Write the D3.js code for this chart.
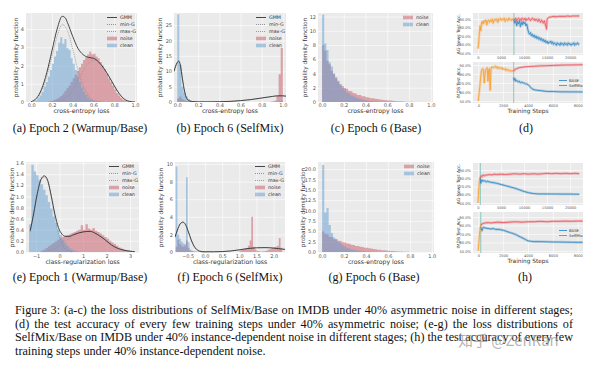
<!DOCTYPE html>
<html>
<head>
<meta charset="utf-8">
<script src="https://cdn.jsdelivr.net/npm/d3@7"></script>
<style>
  body { margin: 0; background: #fff; }
  svg { display: block; }
</style>
</head>
<body>
<div id="figure"></div>
<script>
// ---------------- Data ----------------

// Histogram bins (start of first bin, bin width)
const binsA = {start: 0, width: 0.02};
const binsB = {start: 0, width: 0.02};
const binsC = {start: 0, width: 0.02};
const binsE = {start: -1.3, width: 0.1};
const binsF = {start: -0.85, width: 0.05};
const binsG = {start: 0, width: 0.02};

// (a) Epoch 2 (Warmup/Base)
const aClean = [0, 0.03, 0.1, 0.2, 0.35, 0.55, 0.85, 1.1, 1.4, 1.75, 2.1, 2.5, 2.8, 3.25, 3.55, 3.2, 3.45, 2.95, 2.85, 2.4,
  2.1, 1.75, 1.4, 1.1, 0.8, 0.55, 0.38, 0.25, 0.15, 0.09, 0.05, 0.03, 0.01];
const aNoise = [0, 0, 0, 0, 0, 0, 0, 0, 0.02, 0.05, 0.08, 0.12, 0.18, 0.25, 0.33, 0.45, 0.6, 0.75, 0.9, 1.1,
  1.3, 1.5, 1.7, 1.9, 2.1, 2.3, 2.45, 2.6, 2.75, 2.6, 2.65, 2.5, 2.4, 2.2, 2.0, 1.8, 1.55, 1.3, 1.1, 0.9,
  0.7, 0.5, 0.35, 0.22, 0.13, 0.07, 0.03, 0.01];
const aGmm = [[0, 0.02], [0.05, 0.2], [0.1, 0.7], [0.15, 1.6], [0.2, 2.8], [0.25, 4.0], [0.3, 4.7], [0.33, 4.6], [0.35, 4.35],
  [0.4, 3.6], [0.45, 2.95], [0.5, 2.6], [0.55, 2.45], [0.6, 2.4], [0.65, 2.2], [0.7, 1.85], [0.75, 1.4], [0.8, 0.9],
  [0.85, 0.45], [0.9, 0.15], [0.95, 0.03], [1.0, 0]];
const aMinG = [[0, 0.02], [0.05, 0.15], [0.1, 0.6], [0.15, 1.4], [0.2, 2.5], [0.25, 3.6], [0.3, 4.25], [0.35, 3.9], [0.4, 2.9],
  [0.45, 1.8], [0.5, 0.9], [0.55, 0.35], [0.6, 0.1], [0.65, 0.02], [0.7, 0]];
const aMaxG = [[0.25, 0.05], [0.3, 0.12], [0.35, 0.3], [0.4, 0.7], [0.45, 1.2], [0.5, 1.7], [0.55, 2.1], [0.6, 2.3], [0.65, 2.2],
  [0.7, 1.85], [0.75, 1.4], [0.8, 0.9], [0.85, 0.45], [0.9, 0.15], [0.95, 0.03], [1.0, 0]];

// (b) Epoch 6 (SelfMix)
const bClean = [28.5, 12, 5, 3, 1.8, 1.0, 0.6, 0.35, 0.2, 0.12,
  0.08, 0.05, 0.04, 0.03, 0.02, 0.02, 0.01, 0.01, 0, 0,
  0, 0, 0, 0, 0, 0, 0, 0, 0, 0,
  0, 0, 0, 0, 0, 0, 0, 0, 0, 0,
  0, 0, 0, 0, 0.05, 0.05, 0.1, 0.2, 0.4, 0.5];
const bNoise = [1.2, 1.8, 1.0, 0.6, 0.35, 0.2, 0.12, 0.08, 0.05, 0.04,
  0.03, 0.03, 0.02, 0.02, 0.02, 0.02, 0, 0, 0, 0,
  0, 0, 0, 0, 0, 0, 0, 0, 0, 0,
  0, 0, 0, 0, 0, 0, 0, 0, 0, 0,
  0, 0, 0, 0, 0.1, 0.2, 0.5, 2.0, 9.0, 17.5];
const bGmm = [[-0.03, 10], [0, 12.8], [0.015, 13.3], [0.03, 12], [0.05, 7.5], [0.07, 3.5], [0.09, 1.2], [0.12, 0.3],
  [0.15, 0.1], [0.2, 0.05], [0.3, 0.05], [0.4, 0.1], [0.5, 0.2], [0.6, 0.45], [0.7, 0.8], [0.8, 1.3], [0.9, 1.8],
  [0.95, 2.0], [1.0, 2.0], [1.03, 1.9]];
const bMinG = [[-0.03, 9.8], [0, 12.6], [0.015, 13.1], [0.03, 11.8], [0.05, 7.4], [0.07, 3.4], [0.09, 1.1], [0.12, 0.25],
  [0.15, 0.03], [0.2, 0]];
const bMaxG = [[0.1, 0], [0.2, 0.02], [0.3, 0.05], [0.4, 0.1], [0.5, 0.2], [0.6, 0.45], [0.7, 0.8], [0.8, 1.3], [0.9, 1.8],
  [0.95, 2.0], [1.0, 2.0], [1.03, 1.9]];

// (c) Epoch 6 (Base)
const cClean = [12.3, 8.2, 7.3, 5.6, 5.0, 3.9, 3.5, 2.8, 2.5, 1.95, 1.75, 1.35, 1.2, 0.92, 0.82, 0.63, 0.54, 0.41, 0.35, 0.26,
  0.22, 0.15, 0.13, 0.09, 0.07, 0.05, 0.035, 0.025, 0.015, 0.01];
const cNoise = [8.0, 7.2, 5.8, 5.3, 4.4, 4.0, 3.3, 3.0, 2.45, 2.25, 1.95, 1.85, 1.55, 1.5, 1.25, 1.2, 1.0, 0.98, 0.82, 0.8,
  0.68, 0.64, 0.53, 0.52, 0.44, 0.41, 0.35, 0.33, 0.27, 0.26, 0.21, 0.2, 0.16, 0.15, 0.12, 0.11, 0.09, 0.07, 0.05, 0.04,
  0.03, 0.02, 0.01];

// (e) Epoch 1 (Warmup/Base)
const eClean = [0.5, 1.57, 1.45, 1.38, 1.3, 1.22, 1.12, 1.02, 0.9, 0.78, 0.64, 0.52, 0.4, 0.3, 0.22, 0.15, 0.1, 0.06, 0.04, 0.02, 0.01];
const eNoise = [0, 0, 0, 0, 0, 0.02, 0.04, 0.07, 0.1, 0.13, 0.16, 0.19, 0.22, 0.25, 0.27, 0.29, 0.3, 0.32, 0.34, 0.36,
  0.38, 0.4, 0.48, 0.4, 0.5, 0.42, 0.4, 0.43, 0.38, 0.36, 0.33, 0.3, 0.27, 0.24, 0.2, 0.17, 0.14, 0.11, 0.08, 0.06,
  0.04, 0.03, 0.02, 0.01];
const eGmm = [[-1.25, 0.38], [-1.1, 0.7], [-0.95, 1.05], [-0.8, 1.3], [-0.65, 1.37], [-0.5, 1.28], [-0.35, 1.0], [-0.2, 0.68],
  [-0.05, 0.44], [0.1, 0.32], [0.25, 0.28], [0.4, 0.28], [0.6, 0.31], [0.8, 0.34], [1.0, 0.36], [1.3, 0.37], [1.5, 0.34],
  [1.7, 0.29], [1.9, 0.23], [2.1, 0.16], [2.3, 0.1], [2.5, 0.06], [2.7, 0.035], [2.9, 0.018], [3.1, 0.008], [3.2, 0.005]];
const eMinG = [[-1.25, 0.36], [-1.1, 0.68], [-0.95, 1.03], [-0.8, 1.28], [-0.65, 1.35], [-0.5, 1.26], [-0.35, 0.97],
  [-0.2, 0.62], [-0.05, 0.33], [0.1, 0.15], [0.25, 0.05], [0.4, 0.015], [0.55, 0]];
const eMaxG = [[-0.5, 0.02], [-0.2, 0.06], [0, 0.11], [0.2, 0.17], [0.4, 0.24], [0.6, 0.3], [0.8, 0.34], [1.0, 0.36],
  [1.3, 0.37], [1.5, 0.34], [1.7, 0.29], [1.9, 0.23], [2.1, 0.16], [2.3, 0.1], [2.5, 0.06], [2.7, 0.035], [2.9, 0.018],
  [3.1, 0.008], [3.2, 0.005]];

// (f) Epoch 6 (SelfMix)
const fClean = [9.7, 2.0, 1.5, 1.2, 1.0, 0.9, 8.5, 1.1, 0.3, 0.15, 0.08, 0.05, 0.03, 0.02];
const fNoise = [0.6, 1.4, 0.9, 0.7, 0.6, 0.7, 1.3, 0.5, 0.15, 0.08,
  0.05, 0.03, 0.02, 0.01, 0, 0, 0, 0, 0, 0,
  0, 0, 0, 0, 0, 0, 0, 0, 0, 0,
  0, 0, 0, 0, 0, 0, 0, 0.15, 0.25, 0.3,
  0.35, 0.45, 0.7, 1.3, 4.0, 0.6, 0.3, 0.15, 0.08, 0.05,
  0.05, 0.08, 0.12, 0.2, 0.3, 0.35, 0.45, 0.55, 0.6, 0.7,
  1.6, 0.5];
const fGmm = [[-0.87, 1.7], [-0.8, 2.5], [-0.72, 3.2], [-0.64, 3.4], [-0.56, 3.1], [-0.48, 2.3], [-0.4, 1.4], [-0.32, 0.7],
  [-0.24, 0.3], [-0.15, 0.1], [0, 0.03], [0.25, 0.03], [0.5, 0.05], [0.75, 0.12], [1.0, 0.25], [1.25, 0.4], [1.5, 0.48],
  [1.75, 0.5], [2.0, 0.45], [2.15, 0.38], [2.33, 0.3]];
const fMinG = [[-0.87, 1.65], [-0.8, 2.45], [-0.72, 3.15], [-0.64, 3.35], [-0.56, 3.05], [-0.48, 2.25], [-0.4, 1.35],
  [-0.32, 0.65], [-0.24, 0.25], [-0.15, 0.06], [0, 0]];
const fMaxG = [[-0.1, 0], [0.25, 0.02], [0.5, 0.05], [0.75, 0.12], [1.0, 0.25], [1.25, 0.4], [1.5, 0.48], [1.75, 0.5],
  [2.0, 0.45], [2.15, 0.38], [2.33, 0.3]];

// (g) Epoch 6 (Base)
const gClean = [21, 9.5, 10.6, 6.5, 4.6, 3.5, 3.1, 2.4, 2.1, 1.55, 1.35, 0.95, 0.85, 0.62, 0.52, 0.38, 0.31, 0.21, 0.17, 0.11,
  0.09, 0.06, 0.04, 0.03, 0.02, 0.01];
const gNoise = [5.0, 4.4, 4.3, 3.7, 3.6, 3.1, 3.05, 2.7, 2.65, 2.35, 2.3, 2.05, 2.0, 1.75, 1.7, 1.45, 1.42, 1.25, 1.22, 1.05,
  1.02, 0.88, 0.82, 0.7, 0.66, 0.56, 0.53, 0.45, 0.41, 0.34, 0.31, 0.25, 0.23, 0.17, 0.15, 0.11, 0.1, 0.07, 0.06, 0.04,
  0.03, 0.02, 0.01];

// (d) test accuracy, 40% asymmetric noise  [step, accuracy %]
const dAgSwitch = 7800;
const dAgWarm = [[0, 55], [150, 62], [300, 75], [450, 82], [600, 76], [750, 84], [900, 87], [1100, 84], [1300, 88], [1500, 86],
  [1700, 89], [1900, 83], [2100, 88], [2300, 89], [2500, 86], [2700, 89], [2900, 87], [3100, 90], [3300, 85], [3500, 89],
  [3700, 90], [3900, 88], [4100, 90], [4300, 86], [4500, 90], [4700, 89], [4900, 91], [5100, 88], [5300, 90], [5500, 89],
  [5700, 91], [5900, 87], [6100, 90], [6300, 90], [6500, 88], [6700, 91], [6900, 89], [7100, 90], [7300, 88], [7500, 90], [7800, 90]];
const dAgBase = [[7800, 90], [8000, 85], [8200, 88], [8400, 82], [8600, 87], [8800, 84], [9000, 88], [9200, 81], [9400, 86],
  [9600, 83], [9800, 87], [10000, 84], [10200, 86], [10400, 82], [10600, 84], [10800, 78], [11000, 74], [11200, 72], [11400, 74],
  [11600, 70], [11800, 72], [12000, 69], [12200, 71], [12400, 68], [12600, 70], [12800, 67], [13000, 69], [13200, 66],
  [13400, 68], [13600, 65], [13800, 67], [14000, 64], [14200, 66], [14400, 63], [14600, 65], [14800, 62], [15000, 64],
  [15200, 61], [15400, 63], [15600, 62], [15800, 64], [16000, 61], [16200, 63], [16400, 60], [16600, 62], [16800, 61],
  [17000, 59], [17200, 62], [17400, 60], [17600, 61], [17800, 59], [18000, 62], [18200, 60], [18400, 61], [18600, 59],
  [18800, 62], [19000, 60], [19200, 61], [19400, 59], [19600, 62], [19800, 60], [20000, 61], [20200, 59], [20400, 61],
  [20600, 60], [20800, 62], [21000, 59], [21200, 61], [21400, 60], [21600, 62], [21800, 60], [22000, 61]];
const dAgSelf = [[7800, 90], [8000, 89], [8200, 91], [8400, 88], [8600, 90], [8800, 91], [9000, 89], [9200, 90], [9400, 88],
  [9600, 91], [9800, 90], [10000, 89], [10200, 91], [10400, 88], [10600, 90], [10800, 89], [11000, 91], [11200, 90],
  [11400, 88], [11600, 90], [11800, 91], [12000, 89], [12200, 90], [12400, 88], [12600, 90], [12800, 89], [13000, 87],
  [13200, 90], [13400, 88], [13600, 86], [13800, 89], [14000, 87], [14200, 85], [14400, 88], [14600, 84], [14800, 80],
  [14900, 78], [15000, 90], [15200, 91], [15400, 92], [15600, 92], [16000, 92.5], [16500, 93], [17000, 92.5], [17500, 93],
  [18000, 93], [18500, 93], [19000, 93], [19500, 93.5], [20000, 93], [20500, 93.5], [21000, 93.5], [21500, 93.5], [22000, 93.5]];

const dImdbSwitch = 2850;
const dImdbWarm = [[0, 50], [60, 58], [120, 66], [180, 75], [240, 82], [300, 85], [360, 86], [420, 84], [480, 70], [540, 80],
  [600, 85], [660, 86], [720, 87], [780, 72], [840, 85], [900, 86], [960, 62], [1020, 85], [1080, 88], [1140, 87], [1200, 88],
  [1260, 87], [1320, 88], [1380, 89], [1440, 87], [1500, 88], [1560, 86], [1620, 88], [1680, 87], [1740, 86], [1800, 87],
  [1860, 86], [1920, 87], [1980, 85], [2040, 86], [2100, 85], [2160, 86], [2220, 84], [2280, 85], [2340, 84], [2400, 85],
  [2460, 84], [2520, 83], [2580, 84], [2640, 83], [2700, 84], [2760, 83], [2850, 83]];
const dImdbBase = [[2850, 76], [2900, 73], [2950, 75], [3000, 72], [3100, 73], [3200, 71], [3300, 72], [3400, 70], [3500, 71],
  [3600, 70], [3700, 70], [3800, 69], [3900, 69], [4000, 68], [4100, 67], [4200, 65], [4300, 64], [4400, 63], [4500, 62.5],
  [4700, 62], [5000, 61.5], [5300, 61], [5600, 60.5], [6000, 60.5], [6500, 60.2], [7000, 60.2], [7500, 60.1], [8000, 60.1], [8400, 60]];
const dImdbSelf = [[2850, 83], [2950, 85], [3100, 86], [3300, 87], [3500, 87.5], [3800, 88], [4100, 88.3], [4500, 88.6],
  [5000, 89], [5500, 89.2], [6000, 89.5], [6500, 89.7], [7000, 89.9], [7500, 90], [8000, 90.1], [8400, 90.2]];

// (h) test accuracy, 40% instance-dependent noise
const hAgSwitch = 500;
const hAgWarm = [[0, 50], [100, 60], [200, 70], [300, 77], [400, 80], [500, 80]];
const hAgBase = [[500, 80], [600, 74], [700, 78], [800, 76], [1000, 78], [1200, 76.5], [1500, 77], [1800, 75.5], [2000, 76.5],
  [2500, 75.5], [3000, 75], [4000, 74], [5000, 72.5], [6000, 71], [7000, 69.5], [8000, 68], [9000, 66], [10000, 64],
  [11000, 62.5], [12000, 61.5], [13000, 61], [14000, 61], [15000, 61], [16000, 60.9], [17000, 60.9], [18000, 60.8],
  [19000, 60.8], [20000, 60.8], [21000, 60.7], [22000, 60.7]];
const hAgSelf = [[500, 80], [700, 83], [900, 82], [1100, 84], [1400, 83], [1700, 84], [2000, 84], [2500, 84.5], [3000, 84],
  [3500, 85], [4000, 84.5], [5000, 85], [6000, 84.5], [7000, 85], [8000, 85.5], [9000, 85], [10000, 85.5], [11000, 85],
  [12000, 85.5], [13000, 85], [14000, 85.5], [15000, 86], [16000, 85.5], [17000, 86], [18000, 85.5], [19000, 86],
  [20000, 85.5], [21000, 86], [22000, 85.5]];

const hImdbSwitch = 200;
const hImdbWarm = [[0, 50], [50, 60], [100, 70], [150, 77], [200, 80]];
const hImdbBase = [[200, 78], [300, 74], [400, 78], [600, 77], [800, 76.5], [1000, 76], [1200, 76.5], [1400, 75.5], [1600, 75.5],
  [1800, 75], [2000, 74.5], [2200, 73.5], [2400, 72.5], [2600, 71.5], [2800, 70.5], [3000, 69.5], [3200, 68], [3400, 66.5],
  [3600, 65], [3800, 63.5], [4000, 62], [4200, 61.5], [4500, 61], [5000, 61], [5500, 60.8], [6000, 60.6], [6500, 60.5],
  [7000, 60.4], [7500, 60.3], [8000, 60.2], [8400, 60.2]];
const hImdbSelf = [[200, 80], [300, 82], [500, 83], [800, 83.5], [1000, 83], [1500, 84], [2000, 83.5], [2500, 84], [3000, 84.5],
  [3500, 84], [4000, 84.5], [4500, 84.5], [5000, 85], [5500, 84.5], [6000, 85], [6500, 85], [7000, 85.2], [7500, 85],
  [8000, 85.3], [8400, 85.3]];

// Tick values
const ticksUnit = [0, 0.2, 0.4, 0.6, 0.8, 1.0];
const ticksAy = [0, 1, 2, 3, 4];
const ticksBy = [0, 5, 10, 15, 20, 25];
const ticksCy = [0, 2, 4, 6, 8, 10, 12];
const ticksEx = [-1, 0, 1, 2, 3];
const ticksEy = [0, 0.2, 0.4, 0.6, 0.8, 1.0, 1.2, 1.4, 1.6];
const ticksFx = [-0.5, 0, 0.5, 1.0, 1.5, 2.0];
const ticksFy = [0, 2, 4, 6, 8, 10];
const ticksGy = [0, 2.5, 5, 7.5, 10, 12.5, 15, 17.5, 20];
const ticksAgSteps = [0, 5000, 10000, 15000, 20000];
const ticksImdbSteps = [0, 2000, 4000, 6000, 8000];
const ticksAcc = [50, 60, 70, 80, 90];

// Caption text
const subCaptions = ["(a) Epoch 2 (Warmup/Base)", "(b) Epoch 6 (SelfMix)", "(c) Epoch 6 (Base)", "(d)",
  "(e) Epoch 1 (Warmup/Base)", "(f) Epoch 6 (SelfMix)", "(g) Epoch 6 (Base)", "(h)"];
const captionLines = [
  "Figure 3: (a-c) the loss distributions of SelfMix/Base on IMDB under 40% asymmetric noise in different stages;",
  "(d) the test accuracy of every few training steps under 40% asymmetric noise; (e-g) the loss distributions of",
  "SelfMix/Base on IMDB under 40% instance-dependent noise in different stages; (h) the test accuracy of every few",
  "training steps under 40% instance-dependent noise."
];

// ---------------- Drawing ----------------
const COLORS = {
  bg: "#eaeaea", noise: "#c75565", clean: "#5f9bd0", gmm: "#333", minG: "#888", maxG: "#8a9a8a",
  warm: "#f7a035", base: "#3a8cc4", self: "#ee5a62", switchLine: "#5cb8ab"
};
const TICK_FONT = "DejaVu Sans, sans-serif";
const SERIF = "Liberation Serif, Times New Roman, serif";

const svg = d3.select("#figure").append("svg").attr("width", 600).attr("height", 367);
const defs = svg.append("defs");
let clipCount = 0;

function clipFor(box) {
  const id = "clip" + (clipCount++);
  defs.append("clipPath").attr("id", id).append("rect")
    .attr("x", box.x0).attr("y", box.y0).attr("width", box.x1 - box.x0).attr("height", box.y1 - box.y0);
  return "url(#" + id + ")";
}

// Background, white grid and tick labels
function drawFrame(g, box, x, y, xTicks, yTicks, xFmt, yFmt, fs) {
  g.append("rect").attr("x", box.x0).attr("y", box.y0)
    .attr("width", box.x1 - box.x0).attr("height", box.y1 - box.y0).attr("fill", COLORS.bg);
  const ax = g.append("g").attr("transform", "translate(0," + box.y1 + ")")
    .call(d3.axisBottom(x).tickValues(xTicks).tickFormat(xFmt).tickSize(-(box.y1 - box.y0)).tickPadding(1.2));
  const ay = g.append("g").attr("transform", "translate(" + box.x0 + ",0)")
    .call(d3.axisLeft(y).tickValues(yTicks).tickFormat(yFmt).tickSize(-(box.x1 - box.x0)).tickPadding(2));
  [ax, ay].forEach(a => {
    a.select(".domain").remove();
    a.selectAll("line").attr("stroke", "#fff").attr("stroke-width", 0.6);
    a.selectAll("text").attr("font-size", fs).attr("font-family", TICK_FONT).attr("fill", "#555");
  });
}

function histPath(values, bins, x, y) {
  const pts = values.map((v, i) => [bins.start + i * bins.width, v]);
  pts.push([bins.start + values.length * bins.width, values[values.length - 1]]);
  return d3.area().curve(d3.curveStepAfter)
    .x(d => x(d[0])).y0(y(0)).y1(d => y(d[1]))(pts);
}

function label(x, y, text, size, rotate) {
  const t = svg.append("text").attr("x", x).attr("y", y).attr("text-anchor", "middle")
    .attr("dominant-baseline", "middle").attr("font-family", TICK_FONT)
    .attr("font-size", size).attr("fill", "#333").text(text);
  if (rotate) t.attr("transform", "rotate(-90," + x + "," + y + ")");
  return t;
}

function histPanel(p) {
  const box = p.box;
  const x = d3.scaleLinear().domain(p.xDomain).range([box.x0, box.x1]);
  const y = d3.scaleLinear().domain(p.yDomain).range([box.y1, box.y0]);
  const g = svg.append("g");
  drawFrame(g, box, x, y, p.xTicks, p.yTicks, p.xFmt, p.yFmt, 5);

  const body = g.append("g").attr("clip-path", clipFor(box));
  body.append("path").attr("d", histPath(p.noise, p.bins, x, y))
    .attr("fill", COLORS.noise).attr("fill-opacity", 0.5);
  body.append("path").attr("d", histPath(p.clean, p.bins, x, y))
    .attr("fill", COLORS.clean).attr("fill-opacity", 0.5);

  const line = d3.line().curve(d3.curveMonotoneX).x(d => x(d[0])).y(d => y(d[1]));
  if (p.gmm) {
    body.append("path").attr("d", line(p.minG)).attr("fill", "none")
      .attr("stroke", COLORS.minG).attr("stroke-width", 0.7).attr("stroke-dasharray", "1,1");
    body.append("path").attr("d", line(p.maxG)).attr("fill", "none")
      .attr("stroke", COLORS.maxG).attr("stroke-width", 0.7).attr("stroke-dasharray", "1,1");
    body.append("path").attr("d", line(p.gmm)).attr("fill", "none")
      .attr("stroke", COLORS.gmm).attr("stroke-width", 0.9);
  }

  // Legend
  const items = p.gmm
    ? [["GMM", "line", COLORS.gmm, null], ["min-G", "line", COLORS.minG, "1,1"], ["max-G", "line", COLORS.maxG, "1,1"],
       ["noise", "patch", COLORS.noise], ["clean", "patch", COLORS.clean]]
    : [["noise", "patch", COLORS.noise], ["clean", "patch", COLORS.clean]];
  const lx = box.x1 - 30, ly = box.y0 + 4.5;
  items.forEach((it, i) => {
    const yy = ly + i * 7;
    if (it[1] === "line") {
      g.append("line").attr("x1", lx).attr("x2", lx + 10).attr("y1", yy).attr("y2", yy)
        .attr("stroke", it[2]).attr("stroke-width", 0.9).attr("stroke-dasharray", it[3]);
    } else {
      g.append("rect").attr("x", lx).attr("y", yy - 1.8).attr("width", 10).attr("height", 3.6)
        .attr("fill", it[2]).attr("fill-opacity", 0.5);
    }
    g.append("text").attr("x", lx + 13).attr("y", yy).attr("dominant-baseline", "middle")
      .attr("font-family", TICK_FONT).attr("font-size", 4.8).attr("fill", "#333").text(it[0]);
  });

  label((box.x0 + box.x1) / 2, box.y1 + 9.5, p.xLabel, 6.2);
  label(p.yLabelX, (box.y0 + box.y1) / 2, "probability density function", 5.8, true);
}

function accPanel(box, xDomain, yDomain, xTicks, warm, base, self, switchStep, yText, showLegend) {
  const x = d3.scaleLinear().domain(xDomain).range([box.x0, box.x1]);
  const y = d3.scaleLinear().domain(yDomain).range([box.y1, box.y0]);
  const g = svg.append("g");
  drawFrame(g, box, x, y, xTicks, ticksAcc, d3.format("d"), d => d.toFixed(1) + "%", 3.6);

  const body = g.append("g").attr("clip-path", clipFor(box));
  const line = d3.line().x(d => x(d[0])).y(d => y(d[1]));
  body.append("line").attr("x1", x(switchStep)).attr("x2", x(switchStep))
    .attr("y1", box.y0).attr("y2", box.y1).attr("stroke", COLORS.switchLine).attr("stroke-width", 0.7);
  // faint band under the noisy curves
  [[warm, COLORS.warm], [base, COLORS.base], [self, COLORS.self]].forEach(s => {
    body.append("path").attr("d", line(s[0])).attr("fill", "none")
      .attr("stroke", s[1]).attr("stroke-opacity", 0.3).attr("stroke-width", 2.6).attr("stroke-linejoin", "round");
  });
  [[warm, COLORS.warm], [base, COLORS.base], [self, COLORS.self]].forEach(s => {
    body.append("path").attr("d", line(s[0])).attr("fill", "none")
      .attr("stroke", s[1]).attr("stroke-width", 0.9).attr("stroke-linejoin", "round");
  });

  if (showLegend) {
    [["BASE", COLORS.base], ["SelfMix", COLORS.self]].forEach((it, i) => {
      const yy = (box.y0 + box.y1) / 2 - 2 + i * 5;
      g.append("line").attr("x1", box.x1 - 24).attr("x2", box.x1 - 16).attr("y1", yy).attr("y2", yy)
        .attr("stroke", it[1]).attr("stroke-width", 0.9);
      g.append("text").attr("x", box.x1 - 14).attr("y", yy).attr("dominant-baseline", "middle")
        .attr("font-family", TICK_FONT).attr("font-size", 3.8).attr("fill", "#333").text(it[0]);
    });
  }
  label(box.x0 - 14, (box.y0 + box.y1) / 2, yText, 4.4, true);
}

// ---- Row 1 ----
histPanel({box: {x0: 26, x1: 137, y0: 13, y1: 102}, xDomain: [-0.05, 1.02], yDomain: [0, 4.88],
  xTicks: ticksUnit, yTicks: ticksAy, xFmt: d3.format(".1f"), yFmt: d3.format("d"),
  bins: binsA, noise: aNoise, clean: aClean, gmm: aGmm, minG: aMinG, maxG: aMaxG,
  xLabel: "cross-entropy loss", yLabelX: 16});
histPanel({box: {x0: 174, x1: 286, y0: 13, y1: 102}, xDomain: [-0.03, 1.03], yDomain: [0, 28.9],
  xTicks: ticksUnit, yTicks: ticksBy, xFmt: d3.format(".1f"), yFmt: d3.format("d"),
  bins: binsB, noise: bNoise, clean: bClean, gmm: bGmm, minG: bMinG, maxG: bMaxG,
  xLabel: "cross-entropy loss", yLabelX: 160});
histPanel({box: {x0: 318, x1: 433, y0: 13, y1: 102}, xDomain: [-0.037, 1.02], yDomain: [0, 12.5],
  xTicks: ticksUnit, yTicks: ticksCy, xFmt: d3.format(".1f"), yFmt: d3.format("d"),
  bins: binsC, noise: cNoise, clean: cClean,
  xLabel: "cross-entropy loss", yLabelX: 305});
accPanel({x0: 473, x1: 583, y0: 13, y1: 55}, [-1087, 22800], [47.6, 97], ticksAgSteps,
  dAgWarm, dAgBase, dAgSelf, dAgSwitch, "AG-News Test Acc.", false);
accPanel({x0: 473, x1: 583, y0: 62, y1: 103}, [-425, 8425], [47.8, 93.3], ticksImdbSteps,
  dImdbWarm, dImdbBase, dImdbSelf, dImdbSwitch, "IMDB Test Acc.", true);
label(528, 111.5, "Training Steps", 5.8);

// ---- Row 2 ----
histPanel({box: {x0: 26, x1: 139, y0: 162, y1: 253}, xDomain: [-1.43, 3.38], yDomain: [-0.02, 1.62],
  xTicks: ticksEx, yTicks: ticksEy, xFmt: d3.format("d"), yFmt: d3.format(".1f"),
  bins: binsE, noise: eNoise, clean: eClean, gmm: eGmm, minG: eMinG, maxG: eMaxG,
  xLabel: "class-regularization loss", yLabelX: 12});
histPanel({box: {x0: 175, x1: 285, y0: 162, y1: 253}, xDomain: [-0.87, 2.33], yDomain: [-0.11, 10.23],
  xTicks: ticksFx, yTicks: ticksFy, xFmt: d3.format(".1f"), yFmt: d3.format("d"),
  bins: binsF, noise: fNoise, clean: fClean, gmm: fGmm, minG: fMinG, maxG: fMaxG,
  xLabel: "class-regularization loss", yLabelX: 161});
histPanel({box: {x0: 318, x1: 434, y0: 162, y1: 253}, xDomain: [-0.037, 1.02], yDomain: [-0.24, 21.7],
  xTicks: ticksUnit, yTicks: ticksGy, xFmt: d3.format(".1f"), yFmt: d3.format(".1f"),
  bins: binsG, noise: gNoise, clean: gClean,
  xLabel: "cross-entropy loss", yLabelX: 303});
accPanel({x0: 473, x1: 583, y0: 163, y1: 205}, [-1087, 22800], [47.6, 98.5], ticksAgSteps,
  hAgWarm, hAgBase, hAgSelf, hAgSwitch, "AG-News Test Acc.", false);
accPanel({x0: 473, x1: 583, y0: 212, y1: 253}, [-425, 8425], [47.6, 96], ticksImdbSteps,
  hImdbWarm, hImdbBase, hImdbSelf, hImdbSwitch, "IMDB Test Acc.", true);
label(528, 261, "Training Steps", 5.8);

// ---- Sub-captions ----
const capPos = [[80, 132], [230, 132], [376, 132], [526, 132], [80, 281], [230, 281], [374, 281], [525, 281]];
subCaptions.forEach((c, i) => {
  svg.append("text").attr("x", capPos[i][0]).attr("y", capPos[i][1]).attr("text-anchor", "middle")
    .attr("font-family", SERIF).attr("font-size", 12).attr("fill", "#111").text(c);
});

// ---- Figure caption (justified) ----
const capLeft = 15, capRight = 573;
captionLines.forEach((line, i) => {
  const t = svg.append("text").attr("x", capLeft).attr("y", 314 + i * 13.6)
    .attr("font-family", SERIF).attr("font-size", 12.2).attr("fill", "#111").text(line);
  if (i < captionLines.length - 1) {
    const natural = t.node().getComputedTextLength();
    const spaces = line.split(" ").length - 1;
    t.attr("word-spacing", (capRight - capLeft - natural) / spaces);
  }
});

// Watermark
svg.append("text").attr("x", 458).attr("y", 346).attr("font-family", "Noto Sans CJK SC, sans-serif")
  .attr("font-size", 15).attr("fill", "#9a9a9a").attr("fill-opacity", 0.75).text("知乎 @ZenRan");
</script>
</body>
</html>
